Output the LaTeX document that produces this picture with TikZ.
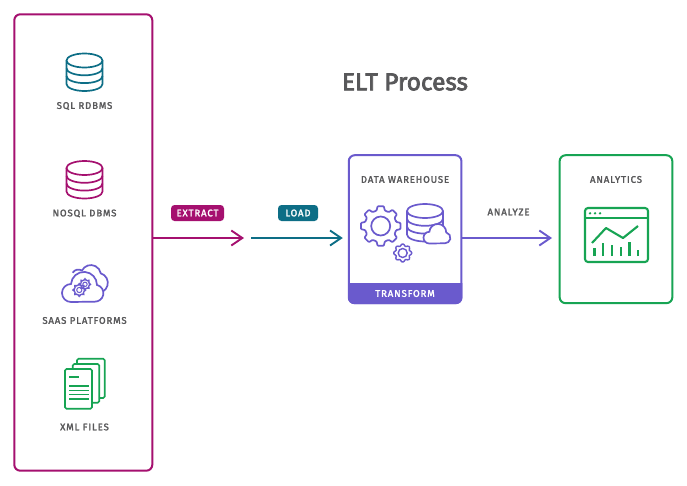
\documentclass[tikz,border=0pt]{standalone}
\usepackage{fontspec}
\usetikzlibrary{arrows.meta}
\setmainfont{Fira Sans}
\newfontfamily\lblfont[LetterSpace=9,FakeBold=2.2]{Fira Sans}
\newfontfamily\titlefont[FakeBold=3]{Fira Sans}
\definecolor{cMag}{HTML}{A5106F}
\definecolor{cTeal}{HTML}{0D6E86}
\definecolor{cPur}{HTML}{6A5ACD}
\definecolor{cGrn}{HTML}{17A453}
\definecolor{cTxt}{HTML}{58585A}
\tikzset{
  panel/.style={draw,line width=2pt,rounded corners=6pt,minimum width=#1,minimum height=148pt,inner sep=0pt},
  lbl/.style={font=\lblfont\fontsize{9.6}{11}\selectfont,text=cTxt,inner sep=0pt},
  pill/.style={lbl,text=white,fill=#1,rounded corners=3.5pt,minimum height=16pt},
  flow/.style={line width=1.9pt,-{Straight Barb[length=11pt,width=15pt,line width=1.9pt]}},
  icon/.style={line width=1.7pt},
  pics/dbicon/.style={code={
    \begin{scope}[y=1pt,icon]
      \draw[fill=white] (-18,0) -- (-18,-23.5) arc[start angle=180,end angle=360,x radius=18,y radius=7] -- (18,0);
      \draw (-18,-7.8) arc[start angle=180,end angle=360,x radius=18,y radius=7];
      \draw (-18,-15.6) arc[start angle=180,end angle=360,x radius=18,y radius=7];
      \draw[fill=white] (0,0) ellipse[x radius=18,y radius=7];
    \end{scope}}},
  pics/cloudicon/.style={code={
    \begin{scope}[y=1pt,icon]
      \draw[fill=white] (9,0) arc[start angle=270,end angle=90,radius=9]
        arc[start angle=176,end angle=0,radius=13]
        arc[start angle=76,end angle=-90,radius=8.5] -- cycle;
    \end{scope}}},
  pics/backcloud/.style={code={
    \begin{scope}[y=1pt,icon]
      \draw (10.7,29.3) .. controls (13,33) and (17,33) .. (20,31.5)
        arc[start angle=153,end angle=10,radius=10]
        arc[start angle=73,end angle=-60,radius=10];
    \end{scope}}}
}
\newcommand{\eltgear}[5]{%
  \begin{scope}[shift={(#1,#2)},line width=#5pt]
    \pgfmathsetmacro{\gs}{45}
    \draw[rounded corners=0.8pt] ({-.33*\gs}:{#3*.8})
      \foreach \i in {0,...,7}{
        -- ({\i*\gs-.33*\gs}:{#3*.8}) -- ({\i*\gs-.2*\gs}:{#3}) -- ({\i*\gs+.2*\gs}:{#3}) -- ({\i*\gs+.33*\gs}:{#3*.8})
      } -- cycle;
    \draw (0,0) circle[radius=#4];
  \end{scope}}
\begin{document}
\begin{tikzpicture}[x=1pt,y=-1pt]
\useasboundingbox (0,0) rectangle (687,485);
\fill[white] (0,0) rectangle (687,485);

% panels
\node[panel=138pt,minimum height=456.4pt,draw=cMag] (src) at (83.3,242.5) {};
\node[panel=112.7pt,draw=cPur] (dw) at (405.1,229.2) {};
\node[panel=112.7pt,draw=cGrn] (an) at (616,229.2) {};
\fill[cPur] (348,283) -- (462.3,283) [rounded corners=6pt] -- (462.3,304) -- (348,304) [sharp corners] -- cycle;

% title
\node[font=\titlefont\fontsize{24.4}{28}\selectfont,text=cTxt,inner sep=0pt] (title) at (405,82) {ELT Process};

% source icons
\pic[color=cTeal] at (84.5,60.5) {dbicon};
\node[lbl] (sql) at (84.5,106) {SQL RDBMS};
\pic[color=cMag] at (84.5,168) {dbicon};
\node[lbl] (nosql) at (84.5,213.5) {NOSQL DBMS};
\pic[color=cPur] at (62,302) {backcloud};
\pic[color=cPur] at (62,302) {cloudicon};
\begin{scope}[color=cPur]
  \eltgear{79.3}{290}{6}{2.6}{1}
  \eltgear{85}{284.3}{5.2}{2.2}{1}
\end{scope}
\node[lbl] (saas) at (84.5,320.5) {SAAS PLATFORMS};
\begin{scope}[color=cGrn,icon,rounded corners=1.5pt]
  \draw[fill=white] (77,358.7) rectangle (104.7,398);
  \draw[fill=white] (72.7,364) rectangle (99.3,402.7);
  \draw[fill=white] (65,369) rectangle (92,408.7);
\end{scope}
\begin{scope}[color=cGrn,line width=1.3pt]
  \draw (69,377) -- (78.7,377);
  \draw (69,386) -- (89,386);
  \draw (69,390.3) -- (89,390.3);
  \draw (69,394.7) -- (89,394.7);
  \draw (69,399) -- (89,399);
\end{scope}
\node[lbl] (xml) at (84.5,427) {XML FILES};

% warehouse
\node[lbl] (dwt) at (405,179.5) {DATA WAREHOUSE};
\begin{scope}[color=cPur]
  \eltgear{380.7}{226}{20}{9.5}{1.7}
  \eltgear{402.7}{253}{9}{4.5}{1.4}
\end{scope}
\pic[color=cPur] at (425,211) {dbicon};
\pic[color=cPur,scale=.65] at (423.5,243.5) {cloudicon};
\node[lbl,text=white] (tr) at (405,293.5) {TRANSFORM};

% analytics
\node[lbl] (ant) at (616,179.5) {ANALYTICS};
\begin{scope}[color=cGrn,line width=2.1pt]
  \draw[rounded corners=3pt] (585,208) rectangle (648,262);
  \draw (585,218) -- (648,218);
  \draw[line join=round] (592,243) -- (606,228) -- (623,238) -- (638,226);
  \foreach \bx/\by in {594.5/248,603/243,612/245,621/247,629.5/242,638/250}{
    \draw (\bx,256) -- (\bx,\by);
  }
  \foreach \dx in {590,595,600}{
    \fill (\dx,213.3) circle[radius=1.3];
  }
\end{scope}

% connectors
\coordinate (exEnd) at (244,238);
\coordinate (ldStart) at (251,238);
\coordinate (anEnd) at (552,238);
\draw[flow,cMag] (src.east |- exEnd) -- (exEnd);
\draw[flow,cTeal] (ldStart) -- ([xshift=-5pt]dw.west |- ldStart);
\draw[flow,cPur] (dw.east |- anEnd) -- (anEnd);

% connector labels
\node[pill=cMag,minimum width=53pt] (ext) at (197.5,213) {EXTRACT};
\node[pill=cTeal,minimum width=40pt] (load) at (298,213) {LOAD};
\node[lbl] (ana) at (508.5,212) {ANALYZE};
\end{tikzpicture}
\end{document}
